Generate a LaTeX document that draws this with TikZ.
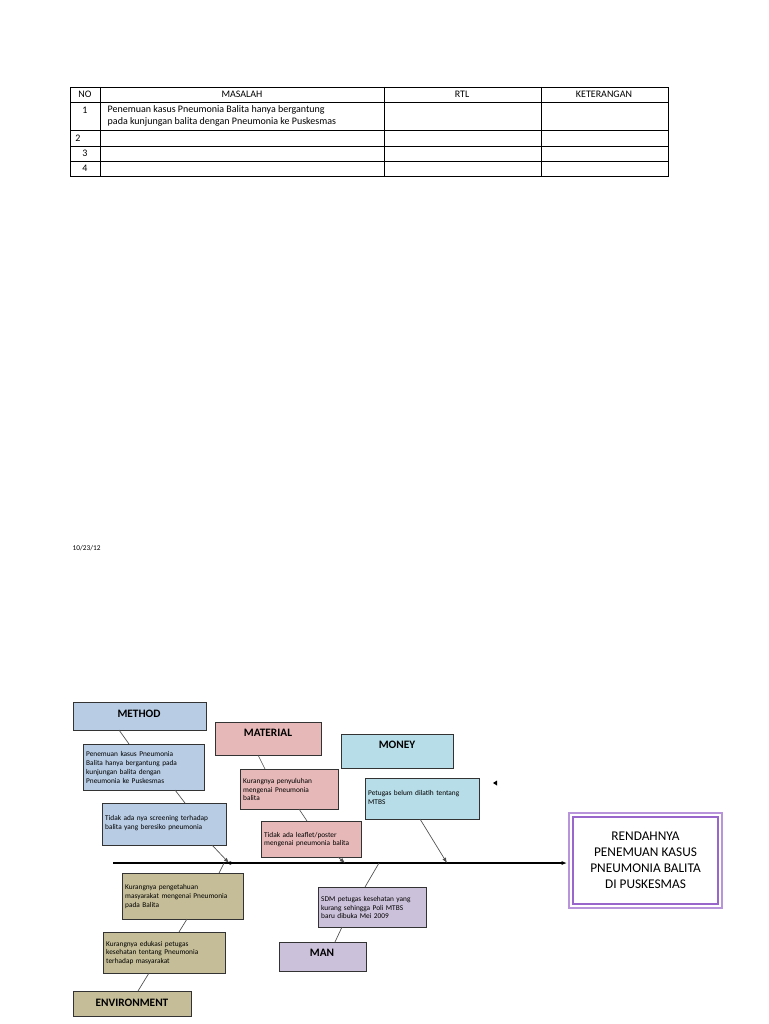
\documentclass[tikz,border=0pt]{standalone}
\usepackage{fontspec}
\setmainfont{Carlito}
\usetikzlibrary{arrows.meta}
\begin{document}
\begin{tikzpicture}[x=0.75pt,y=-0.75pt,
  bx/.style={draw=black!80,line width=0.8pt,anchor=north west,inner sep=2pt,align=left,font=\fontsize{5.5}{6.6}\selectfont},
  hd/.style={draw=black!80,line width=0.8pt,anchor=north west,font=\bfseries\fontsize{8.5}{10}\selectfont},
  cn/.style={draw=black!70,line width=0.5pt},
  sp/.style={-{Latex[length=4pt,width=3pt]},line width=1.3pt},
  tb/.style={font=\fontsize{7.5}{9}\selectfont}]
\useasboundingbox (0,0) rectangle (768,1024);
\definecolor{mb}{HTML}{B8CCE4}\definecolor{mr}{HTML}{E6B9B8}\definecolor{mc}{HTML}{B7DDE8}
\definecolor{me}{HTML}{C4BD97}\definecolor{mp}{HTML}{CCC1DA}\definecolor{pu}{HTML}{9966CC}
% table
\draw[line width=0.6pt] (70,87) rectangle (668,176);
\foreach \y in {102,130,146,161} \draw[line width=0.6pt] (70,\y)--(668,\y);
\foreach \x in {100,384,541} \draw[line width=0.6pt] (\x,87)--(\x,176);
\node[tb] (h1) at (85,94.5) {NO};
\node[tb] (h2) at (242,94.5) {MASALAH};
\node[tb] (h3) at (462,94.5) {RTL};
\node[tb] (h4) at (604,94.5) {KETERANGAN};
\node[tb] (n1) at (85,110) {1};
\node[tb,anchor=west,align=left] (m1) at (103,116) {Penemuan kasus Pneumonia Balita hanya bergantung\\pada kunjungan balita dengan Pneumonia ke Puskesmas};
\node[tb] (n2) at (78,138) {2};
\node[tb] (n3) at (85,153.5) {3};
\node[tb] (n4) at (85,168.5) {4};
\node[anchor=west,font=\fontsize{5.5}{6}\selectfont] (dt) at (68,548) {10/23/12};
% boxes
\node[hd,fill=mb,minimum width=133*0.75pt,minimum height=28*0.75pt] (meth) at (73,702) {};
\node[font=\bfseries\fontsize{8.5}{10}\selectfont] at (139,714) {METHOD};
\node[bx,fill=mb,text width=116*0.75pt,minimum height=46*0.75pt] (c1) at (83,744) {Penemuan kasus Pneumonia\\Balita hanya bergantung pada\\kunjungan balita dengan\\Pneumonia ke Puskesmas};
\node[bx,fill=mb,text width=119*0.75pt,minimum height=42*0.75pt] (c2) at (102,803) {\\[-5pt]Tidak ada nya screening terhadap\\balita yang beresiko pneumonia};
\node[hd,fill=mr,minimum width=106*0.75pt,minimum height=33*0.75pt] (mat) at (215,722) {};
\node[font=\bfseries\fontsize{8.5}{10}\selectfont] at (268,733) {MATERIAL};
\node[bx,fill=mr,text width=93*0.75pt,minimum height=40*0.75pt] (r1) at (240,769) {Kurangnya penyuluhan\\mengenai Pneumonia\\balita};
\node[bx,fill=mr,text width=95*0.75pt,minimum height=36*0.75pt] (r2) at (261,821) {Tidak ada leaflet/poster\\mengenai pneumonia balita};
\node[hd,fill=mc,minimum width=112*0.75pt,minimum height=34*0.75pt] (mon) at (341,734) {};
\node[font=\bfseries\fontsize{8.5}{10}\selectfont] at (397,745) {MONEY};
\node[bx,fill=mc,text width=109*0.75pt,minimum height=41*0.75pt] (o1) at (365,778) {\\[-5pt]Petugas belum dilatih tentang\\MTBS};
\node[bx,fill=me,text width=116*0.75pt,minimum height=46*0.75pt] (e1) at (122,873) {Kurangnya pengetahuan\\masyarakat mengenai Pneumonia\\pada Balita};
\node[bx,fill=me,text width=117*0.75pt,minimum height=41*0.75pt] (e2) at (103,932) {Kurangnya edukasi petugas\\kesehatan tentang Pneumonia\\terhadap masyarakat};
\node[hd,fill=me,minimum width=118*0.75pt,minimum height=25*0.75pt] (env) at (73,991) {};
\node[font=\bfseries\fontsize{8.5}{10}\selectfont] at (132,1003) {ENVIRONMENT};
\node[bx,fill=mp,text width=103*0.75pt,minimum height=40*0.75pt] (p1) at (318,887) {SDM petugas kesehatan yang\\kurang sehingga Poli MTBS\\baru dibuka Mei 2009};
\node[hd,fill=mp,minimum width=87*0.75pt,minimum height=29*0.75pt] (man) at (279,942) {};
\node[font=\bfseries\fontsize{8.5}{10}\selectfont] at (322,953) {MAN};
% effect
\draw[pu!70,line width=2.2pt,fill=white] (569,813) rectangle (722,908);
\draw[pu,line width=0.8pt] (573,817) rectangle (718,904);
\node[align=center,font=\fontsize{10}{12}\selectfont] (eff) at (645.5,860) {RENDAHNYA\\PENEMUAN KASUS\\PNEUMONIA BALITA\\DI PUSKESMAS};
\coordinate (effw) at (567,863);
\coordinate (sps) at (113,863);
\draw[sp] (sps) -- (effw);
% connectors
\coordinate (s1) at (229,863); \coordinate (s2) at (345,863); \coordinate (s3) at (447,863);
\coordinate (s4) at (224,863); \coordinate (s5) at (379,863);
\draw[cn] (119,730)--(129,744);
\draw[cn] (175,790)--(185,803);
\draw[cn,-{Latex[length=4pt,width=3pt]}] (212,845)--(s1);
\draw[-{Latex[length=4pt,width=3pt]},line width=0.8pt] (228,863)--(235,863);
\draw[cn] (258,755)--(265,769);
\draw[cn] (299,809)--(307,821);
\draw[cn,-{Latex[length=4pt,width=3pt]}] (338,857)--(s2);
\draw[cn,-{Latex[length=4pt,width=3pt]}] (420,819)--(s3);
\draw[cn] (s4)--(219,873);
\draw[cn] (187,919)--(179,932);
\draw[cn] (149,973)--(138,991);
\draw[cn] (s5)--(365,887);
\draw[cn] (342,927)--(335,942);
\fill (493,783) -- (497,780.5) -- (497,785.5) -- cycle;
\end{tikzpicture}
\end{document}
